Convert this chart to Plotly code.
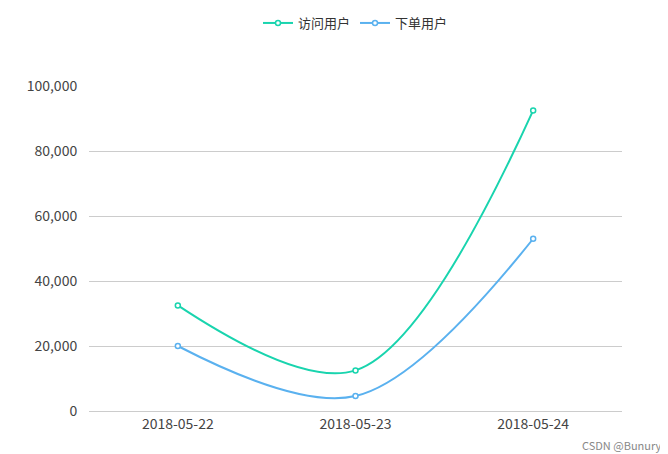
import plotly.graph_objects as go

dates = ["2018-05-22", "2018-05-23", "2018-05-24"]
visits = [32500, 12500, 92500]
orders = [20000, 4600, 53000]
yticks = [0, 20000, 40000, 60000, 80000, 100000]

fig = go.Figure()
for name, vals, col in [("访问用户", visits, "#19d4ae"), ("下单用户", orders, "#5ab1ef")]:
    fig.add_trace(go.Scatter(x=[0, 1, 2], y=vals, name=name, mode="lines+markers",
                             line=dict(color=col, width=2, shape="spline", smoothing=1.0),
                             marker=dict(size=5, color="white", line=dict(color=col, width=1.5))))

fig.update_layout(
    width=668, height=454, margin=dict(l=81, r=54, t=78, b=51),
    plot_bgcolor="white", paper_bgcolor="white",
    font=dict(family="Noto Sans CJK SC, Open Sans", size=14, color="#444"),
    legend=dict(orientation="h", x=0.5, xanchor="center", y=1.0, yref="container", yanchor="top",
                font=dict(size=13, color="#333")),
    xaxis=dict(range=[-0.5, 2.5], tickvals=[0, 1, 2], ticktext=dates, showgrid=False,
               showline=True, linecolor="#ccc", ticks="", zeroline=False),
    yaxis=dict(range=[0, 100000], tickvals=yticks, tickformat=",", showgrid=True,
               gridcolor="#ccc", zeroline=False, showline=False, ticks="outside",
               ticklen=8, tickcolor="rgba(0,0,0,0)"),
    annotations=[dict(text="CSDN @Bunury", x=1, xref="paper", xanchor="right", xshift=42,
                      y=-0.105, yref="paper", yanchor="middle",
                      showarrow=False, font=dict(size=11, color="#888"))],
)
fig.write_html("out.html")
